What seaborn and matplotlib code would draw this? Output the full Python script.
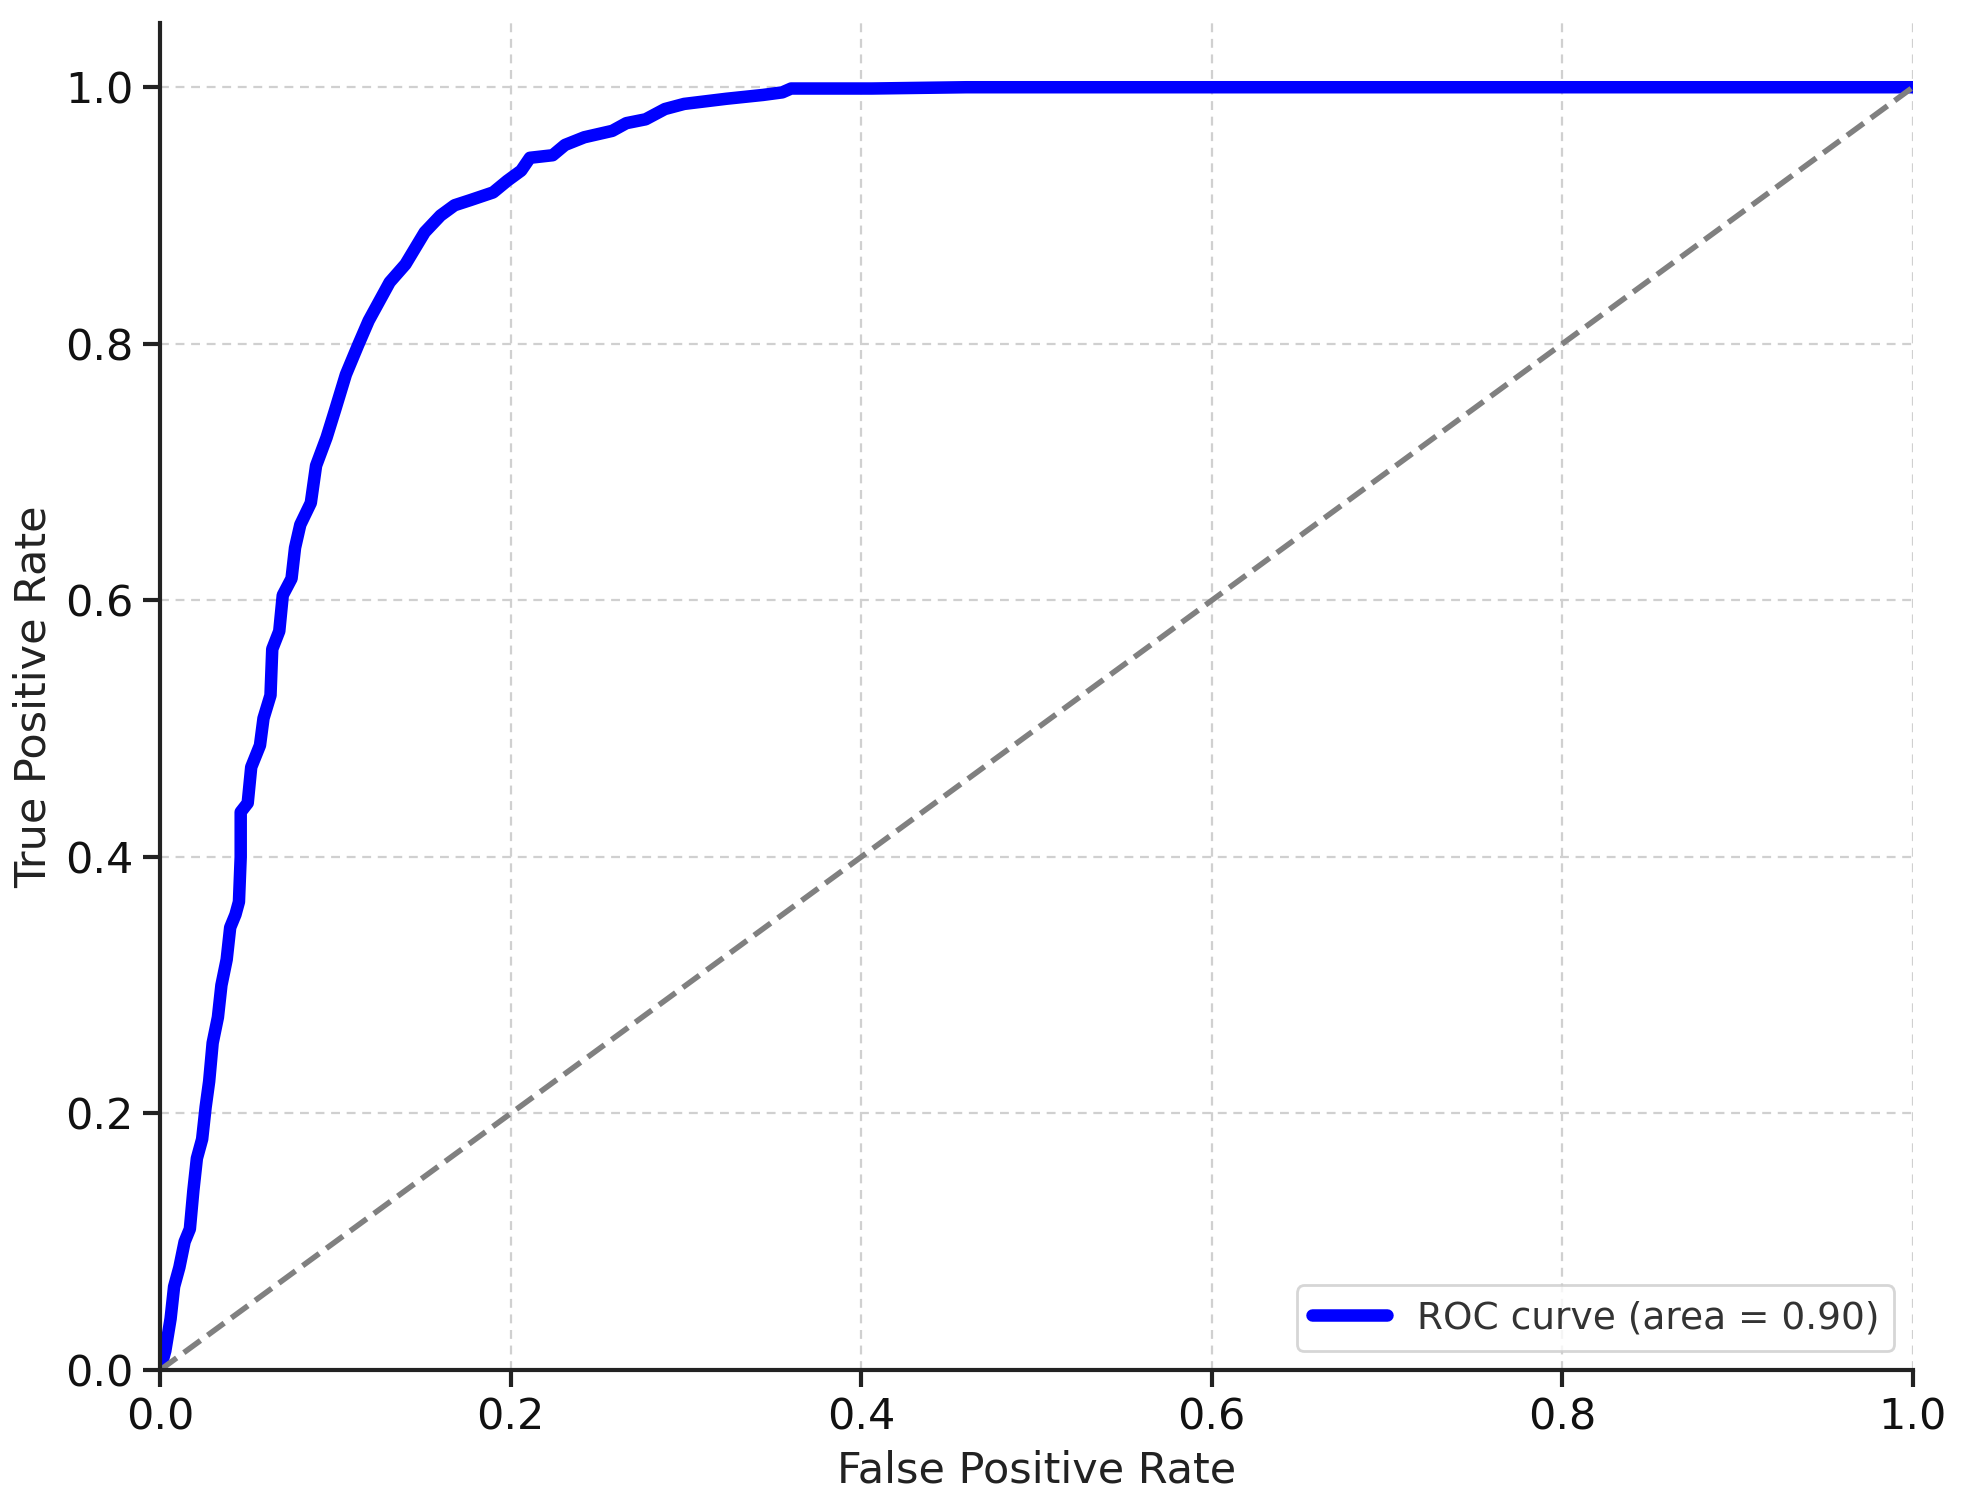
import matplotlib
matplotlib.use("Agg")
import matplotlib.pyplot as plt
import seaborn as sns
import pandas as pd

# ROC curve points
fpr = [0.000, 0.003, 0.006, 0.008, 0.011, 0.014, 0.017, 0.019, 0.021, 0.024,
       0.026, 0.028, 0.030, 0.033, 0.035, 0.038, 0.040, 0.043, 0.045, 0.046,
       0.046, 0.050, 0.052, 0.057, 0.059, 0.063, 0.064, 0.068, 0.070, 0.075,
       0.077, 0.080, 0.086, 0.089, 0.095, 0.100, 0.106, 0.113, 0.119, 0.131,
       0.140, 0.151, 0.160, 0.168, 0.177, 0.190, 0.198, 0.206, 0.211, 0.224,
       0.231, 0.242, 0.258, 0.266, 0.277, 0.288, 0.299, 0.323, 0.344, 0.355,
       0.360, 0.406, 0.460, 1.000]
tpr = [0.000, 0.015, 0.040, 0.065, 0.080, 0.100, 0.110, 0.140, 0.165, 0.180,
       0.205, 0.225, 0.255, 0.275, 0.300, 0.320, 0.345, 0.355, 0.365, 0.400,
       0.435, 0.442, 0.470, 0.487, 0.508, 0.526, 0.562, 0.576, 0.604, 0.617,
       0.641, 0.659, 0.676, 0.705, 0.727, 0.749, 0.776, 0.799, 0.818, 0.848,
       0.862, 0.887, 0.900, 0.908, 0.912, 0.918, 0.927, 0.935, 0.945, 0.947,
       0.955, 0.961, 0.966, 0.972, 0.975, 0.983, 0.987, 0.991, 0.994, 0.996,
       0.999, 0.999, 1.000, 1.000]
chance = [0.0, 1.0]
roc_auc = 0.90

roc_df = pd.DataFrame({"fpr": fpr, "tpr": tpr})
diag_df = pd.DataFrame({"x": chance, "y": chance})

sns.set_style("white")
plt.rcParams["font.family"] = ["DejaVu Sans"]

fig = plt.figure(figsize=(9.82, 7.45), dpi=200)
ax = fig.add_axes([0.0815, 0.0805, 0.8925, 0.904])

sns.lineplot(data=roc_df, x="fpr", y="tpr", estimator=None, sort=False,
             color="blue", linewidth=4.5, label="ROC curve (area = %0.2f)" % roc_auc, ax=ax)
sns.lineplot(data=diag_df, x="x", y="y", estimator=None, sort=False,
             color="gray", linewidth=2, linestyle="--", ax=ax)

ax.set_xlim(0.0, 1.0)
ax.set_ylim(0.0, 1.05)
ax.set_xlabel("False Positive Rate", fontsize=15.5, color="#222222")
ax.set_ylabel("True Positive Rate", fontsize=15.5, color="#222222")
ax.tick_params(axis="both", labelsize=15.5, labelcolor="#111111", direction="out",
               length=6, width=1.5, color="#222222", left=True, bottom=True)

ax.grid(True, linestyle=(0, (4, 3)), color="#d0d0d0", linewidth=0.8)
sns.despine(ax=ax)
for side in ["left", "bottom"]:
    ax.spines[side].set_linewidth(1.5)
    ax.spines[side].set_color("#222222")

leg = ax.legend(loc="lower right", fontsize=13.5, frameon=True)
for t in leg.get_texts():
    t.set_color("#333333")
leg.get_frame().set_edgecolor("#cccccc")

fig.savefig("out.png", dpi=200)
